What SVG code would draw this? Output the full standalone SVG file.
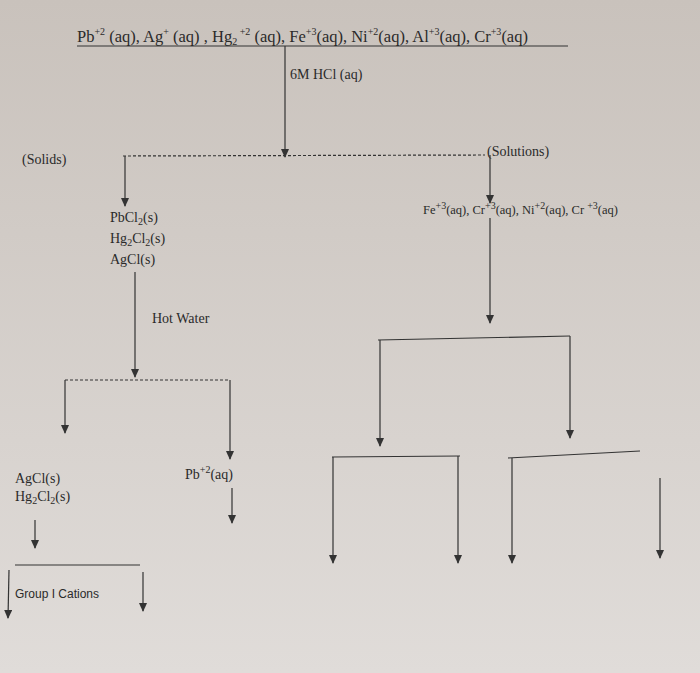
<svg xmlns="http://www.w3.org/2000/svg" width="700" height="673" viewBox="0 0 700 673">
<defs>
<marker id="ah" markerWidth="9" markerHeight="8" refX="8" refY="4" orient="auto" markerUnits="userSpaceOnUse"><path d="M0,0 L9,4 L0,8 Z" fill="#333"/></marker>
<linearGradient id="bg" x1="0" y1="0" x2="0" y2="1"><stop offset="0" stop-color="#c9c2bc"/><stop offset="1" stop-color="#e0dcd9"/></linearGradient>
</defs>
<style>
text{font-family:"Liberation Serif",serif;font-size:14px;fill:#2a2a2a}
.t{font-size:16.5px}
.s{font-size:10px}
.sm{font-size:12.5px}
line{stroke:#333;stroke-width:1.2;fill:none}
.a{marker-end:url(#ah)}
.d{stroke-dasharray:3,2}
</style>
<rect width="700" height="673" fill="url(#bg)"/>
<g id="connectors">
<line x1="77" y1="46" x2="568" y2="46"/>
<line class="a" x1="285" y1="46" x2="285" y2="157"/>
<line class="d" x1="123" y1="156" x2="485" y2="155"/>
<line class="a" x1="125" y1="156" x2="125" y2="206"/>
<line class="a" x1="490" y1="155" x2="490" y2="203"/>
<line class="a" x1="490" y1="218" x2="490" y2="323"/>
<line class="a" x1="135" y1="272" x2="135" y2="377"/>
<line class="d" x1="65" y1="380" x2="230" y2="380"/>
<line class="a" x1="65" y1="380" x2="65" y2="433"/>
<line class="a" x1="230" y1="380" x2="230" y2="459"/>
<line class="a" x1="232" y1="488" x2="232" y2="523"/>
<line class="a" x1="35" y1="520" x2="35" y2="548"/>
<line x1="15" y1="565" x2="140" y2="565"/>
<line class="a" x1="9" y1="570" x2="8" y2="618"/>
<line class="a" x1="143" y1="572" x2="143" y2="611"/>
<line x1="378" y1="340" x2="570" y2="336"/>
<line class="a" x1="380" y1="340" x2="380" y2="446"/>
<line class="a" x1="570" y1="336" x2="570" y2="438"/>
<line x1="332" y1="457" x2="460" y2="456"/>
<line class="a" x1="333" y1="457" x2="333" y2="563"/>
<line class="a" x1="458" y1="456" x2="458" y2="563"/>
<line x1="508" y1="458" x2="640" y2="451"/>
<line class="a" x1="512" y1="458" x2="512" y2="563"/>
<line class="a" x1="660" y1="478" x2="660" y2="558"/>
</g>
<g id="top"><text class="t" x="77" y="42">Pb<tspan class="s" dy="-7">+2</tspan><tspan dy="7"> (aq), Ag</tspan><tspan class="s" dy="-7">+</tspan><tspan dy="7"> (aq) , Hg</tspan><tspan class="s" dy="3">2</tspan><tspan class="s" dy="-10"> +2</tspan><tspan dy="7"> (aq), Fe</tspan><tspan class="s" dy="-7">+3</tspan><tspan dy="7">(aq), Ni</tspan><tspan class="s" dy="-7">+2</tspan><tspan dy="7">(aq), Al</tspan><tspan class="s" dy="-7">+3</tspan><tspan dy="7">(aq), Cr</tspan><tspan class="s" dy="-7">+3</tspan><tspan dy="7">(aq)</tspan></text></g>
<g id="hcl"><text x="290" y="79">6M HCl (aq)</text></g>
<g id="solids"><text x="22" y="164">(Solids)</text></g>
<g id="solutions"><text x="487" y="156">(Solutions)</text></g>
<g id="chlorides"><text x="110" y="222">PbCl<tspan class="s" dy="3">2</tspan><tspan dy="-3">(s)</tspan></text><text x="110" y="243">Hg<tspan class="s" dy="3">2</tspan><tspan dy="-3">Cl</tspan><tspan class="s" dy="3">2</tspan><tspan dy="-3">(s)</tspan></text><text x="110" y="264">AgCl(s)</text></g>
<g id="ions"><text class="sm" x="423" y="214">Fe<tspan class="s" dy="-5">+3</tspan><tspan dy="5">(aq), Cr</tspan><tspan class="s" dy="-5">+3</tspan><tspan dy="5">(aq), Ni</tspan><tspan class="s" dy="-5">+2</tspan><tspan dy="5">(aq), Cr </tspan><tspan class="s" dy="-5">+3</tspan><tspan dy="5">(aq)</tspan></text></g>
<g id="hotwater"><text x="152" y="323">Hot Water</text></g>
<g id="agcl"><text x="15" y="483">AgCl(s)</text><text x="15" y="501">Hg<tspan class="s" dy="3">2</tspan><tspan dy="-3">Cl</tspan><tspan class="s" dy="3">2</tspan><tspan dy="-3">(s)</tspan></text></g>
<g id="pb"><text x="185" y="479">Pb<tspan class="s" dy="-6">+2</tspan><tspan dy="6">(aq)</tspan></text></g>
<g id="group1"><text x="15" y="598" style="font-family:'Liberation Sans',sans-serif;font-size:12px">Group I Cations</text></g>
</svg>
